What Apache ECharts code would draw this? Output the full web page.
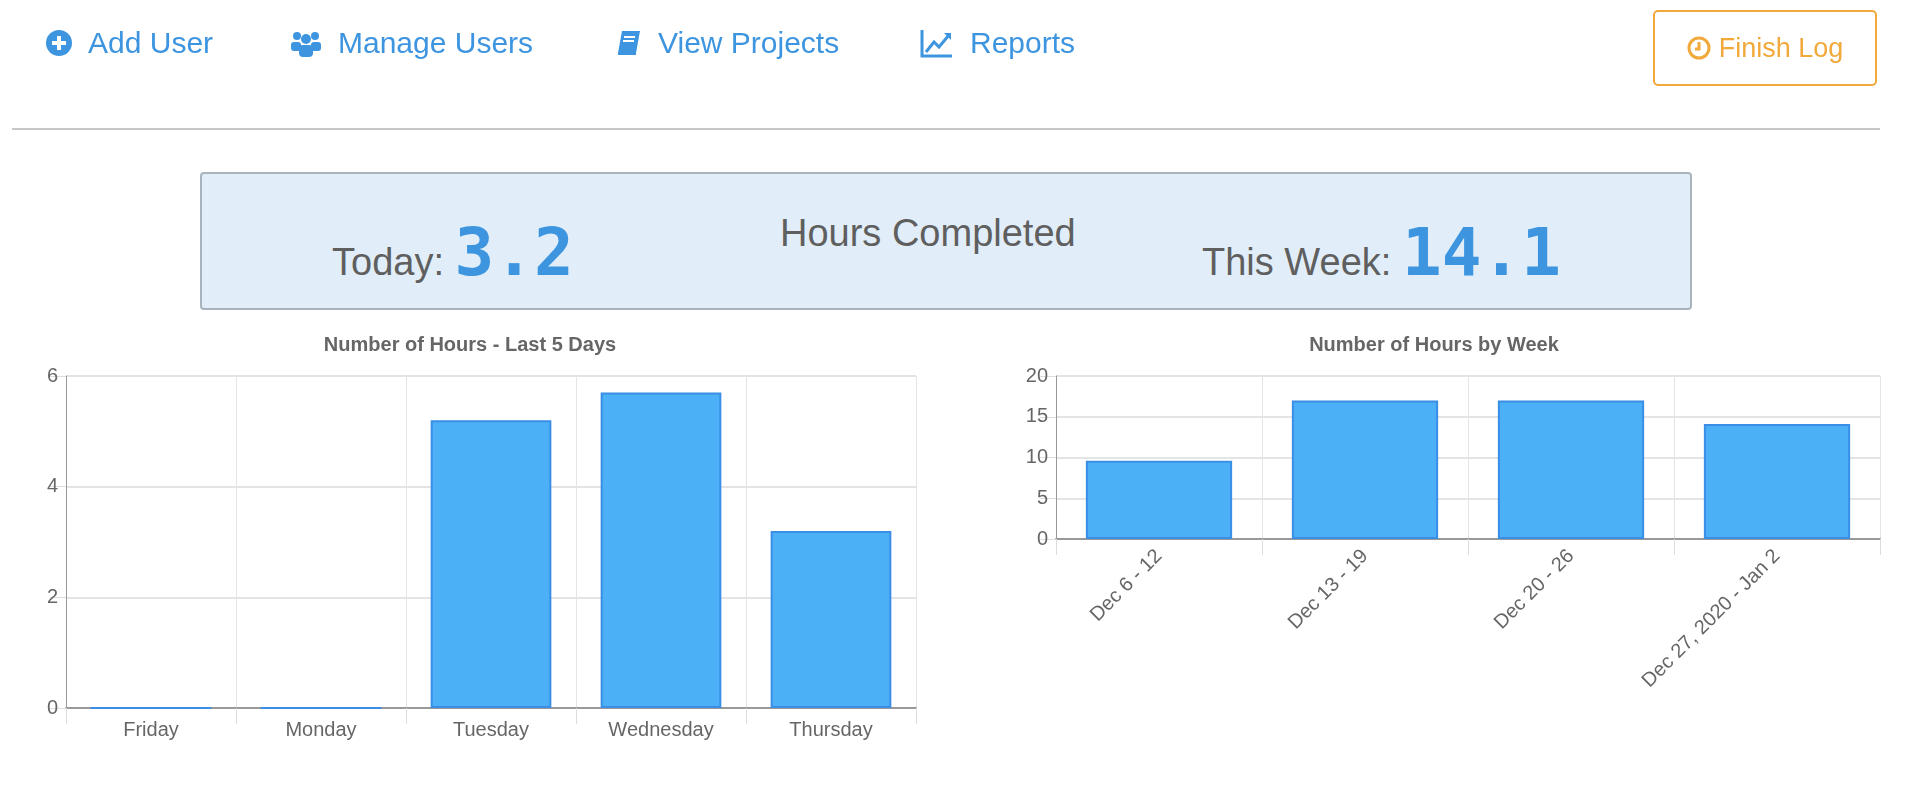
<!DOCTYPE html>
<html><head><meta charset="utf-8">
<script src="https://cdn.jsdelivr.net/npm/echarts@6/dist/echarts.min.js"></script>
<style>
body{margin:0;width:1932px;height:796px;background:#fff;font-family:"Liberation Sans",Arial,sans-serif;overflow:hidden;position:relative}
#c{position:absolute;left:0;top:0;width:1932px;height:796px}
.nav{position:absolute;top:26px;color:#3d95e0;font-size:30px;display:flex;align-items:center;gap:14px}
.nav svg{width:30px;height:30px}
#btn{position:absolute;left:1653px;top:10px;width:224px;height:76px;border:2px solid #f2a93b;border-radius:5px;color:#f2a93b;font-size:27px;display:flex;align-items:center;justify-content:center;gap:8px;box-sizing:border-box}
#hr{position:absolute;left:12px;top:128px;width:1868px;height:2px;background:#c8c8c8}
#box{position:absolute;left:200px;top:172px;width:1492px;height:138px;background:#e1eef9;border:2px solid #a9b3bd;border-radius:4px;box-sizing:border-box;color:#5f5f5f}
.t{position:absolute;font-size:38px}
.n{font-family:"DejaVu Sans Mono",monospace;font-weight:bold;color:#3d95e0;font-size:66px}
</style></head><body>
<div id="c"></div>
<div class="nav" style="left:44px"><svg viewBox="0 0 30 30"><circle cx="15" cy="15" r="13" fill="#3d95e0"/><rect x="13" y="8" width="4" height="14" fill="#fff"/><rect x="8" y="13" width="14" height="4" fill="#fff"/></svg>Add User</div>
<div class="nav" style="left:288px"><svg viewBox="0 0 34 30" style="width:36px"><circle cx="8" cy="8" r="4" fill="#3d95e0"/><circle cx="26" cy="8" r="4" fill="#3d95e0"/><circle cx="17" cy="11" r="5" fill="#3d95e0"/><rect x="2" y="14" width="10" height="9" rx="3" fill="#3d95e0"/><rect x="22" y="14" width="10" height="9" rx="3" fill="#3d95e0"/><rect x="10" y="17" width="14" height="12" rx="4" fill="#3d95e0"/></svg>Manage Users</div>
<div class="nav" style="left:614px"><svg viewBox="0 0 30 30"><path d="M8 3h18l-4 22H4z" fill="#3d95e0"/><path d="M4 25h18v2H4z" fill="#3d95e0"/><rect x="10" y="8" width="11" height="2" fill="#fff"/><rect x="9" y="12" width="11" height="2" fill="#fff"/></svg>View Projects</div>
<div class="nav" style="left:918px"><svg viewBox="0 0 34 30" style="width:38px"><path d="M2 2v26h30" stroke="#3d95e0" stroke-width="3" fill="none"/><path d="M6 24l8-10 5 5 10-12" stroke="#3d95e0" stroke-width="3" fill="none"/><path d="M24 5h7v7z" fill="#3d95e0"/></svg>Reports</div>
<div id="btn"><svg viewBox="0 0 24 24" style="width:24px;height:24px"><circle cx="12" cy="12" r="10" stroke="#f2a93b" stroke-width="3" fill="none"/><path d="M12 6v7h-4" stroke="#f2a93b" stroke-width="3" fill="none"/></svg>Finish Log</div>
<div id="hr"></div>
<div id="box">
<div class="t" style="left:130px;top:40px">Today: <span class="n">3.2</span></div>
<div class="t" style="left:578px;top:38px">Hours Completed</div>
<div class="t" style="left:1000px;top:40px">This Week: <span class="n">14.1</span></div>
</div>
<script>
const dayCats=["Friday","Monday","Tuesday","Wednesday","Thursday"];
const dayHours=[0,0,5.2,5.7,3.2];
const weekCats=["Dec 6 - 12","Dec 13 - 19","Dec 20 - 26","Dec 27, 2020 - Jan 2"];
const weekHours=[9.6,17,17,14.1];
const ch=echarts.init(document.getElementById('c'));
const lab={color:'#666',fontSize:20,fontFamily:'Liberation Sans'};
function xa(i,cats,rot){return {type:'category',gridIndex:i,data:cats,boundaryGap:true,
 axisLine:{lineStyle:{color:'#999',width:2}},axisTick:{show:true,length:16,lineStyle:{color:'#ddd'}},
 splitLine:{show:true,lineStyle:{color:'#e4e4e4'}},axisLabel:Object.assign({margin:rot?14:12,rotate:rot,interval:0},lab)};}
function ya(i,max,iv){return {type:'value',gridIndex:i,min:0,max:max,interval:iv,
 axisLine:{show:true,lineStyle:{color:'#999'}},axisTick:{show:true,length:16,lineStyle:{color:'#ddd'}},
 splitLine:{lineStyle:{color:'#e4e4e4',width:2}},axisLabel:Object.assign({margin:8},lab)};}
const bs={color:'#4bb0f6',borderColor:'#3a8ee6',borderWidth:2};
ch.setOption({animation:false,
 title:[{text:'Number of Hours - Last 5 Days',left:465,top:330,textAlign:'center',textStyle:{color:'#666',fontSize:20,fontWeight:'bold',fontFamily:'Liberation Sans'}},
 {text:'Number of Hours by Week',left:1429,top:330,textAlign:'center',textStyle:{color:'#666',fontSize:20,fontWeight:'bold',fontFamily:'Liberation Sans'}}],
 grid:[{left:66,width:850,top:376,height:332},{left:1056,width:824,top:376,height:163}],
 xAxis:[xa(0,dayCats,0),xa(1,weekCats,45)],
 yAxis:[ya(0,6,2),ya(1,20,5)],
 series:[{type:'bar',xAxisIndex:0,yAxisIndex:0,data:dayHours,barWidth:'71%',itemStyle:bs},
 {type:'bar',xAxisIndex:1,yAxisIndex:1,data:weekHours,barWidth:'71%',itemStyle:bs}]});
</script></body></html>
